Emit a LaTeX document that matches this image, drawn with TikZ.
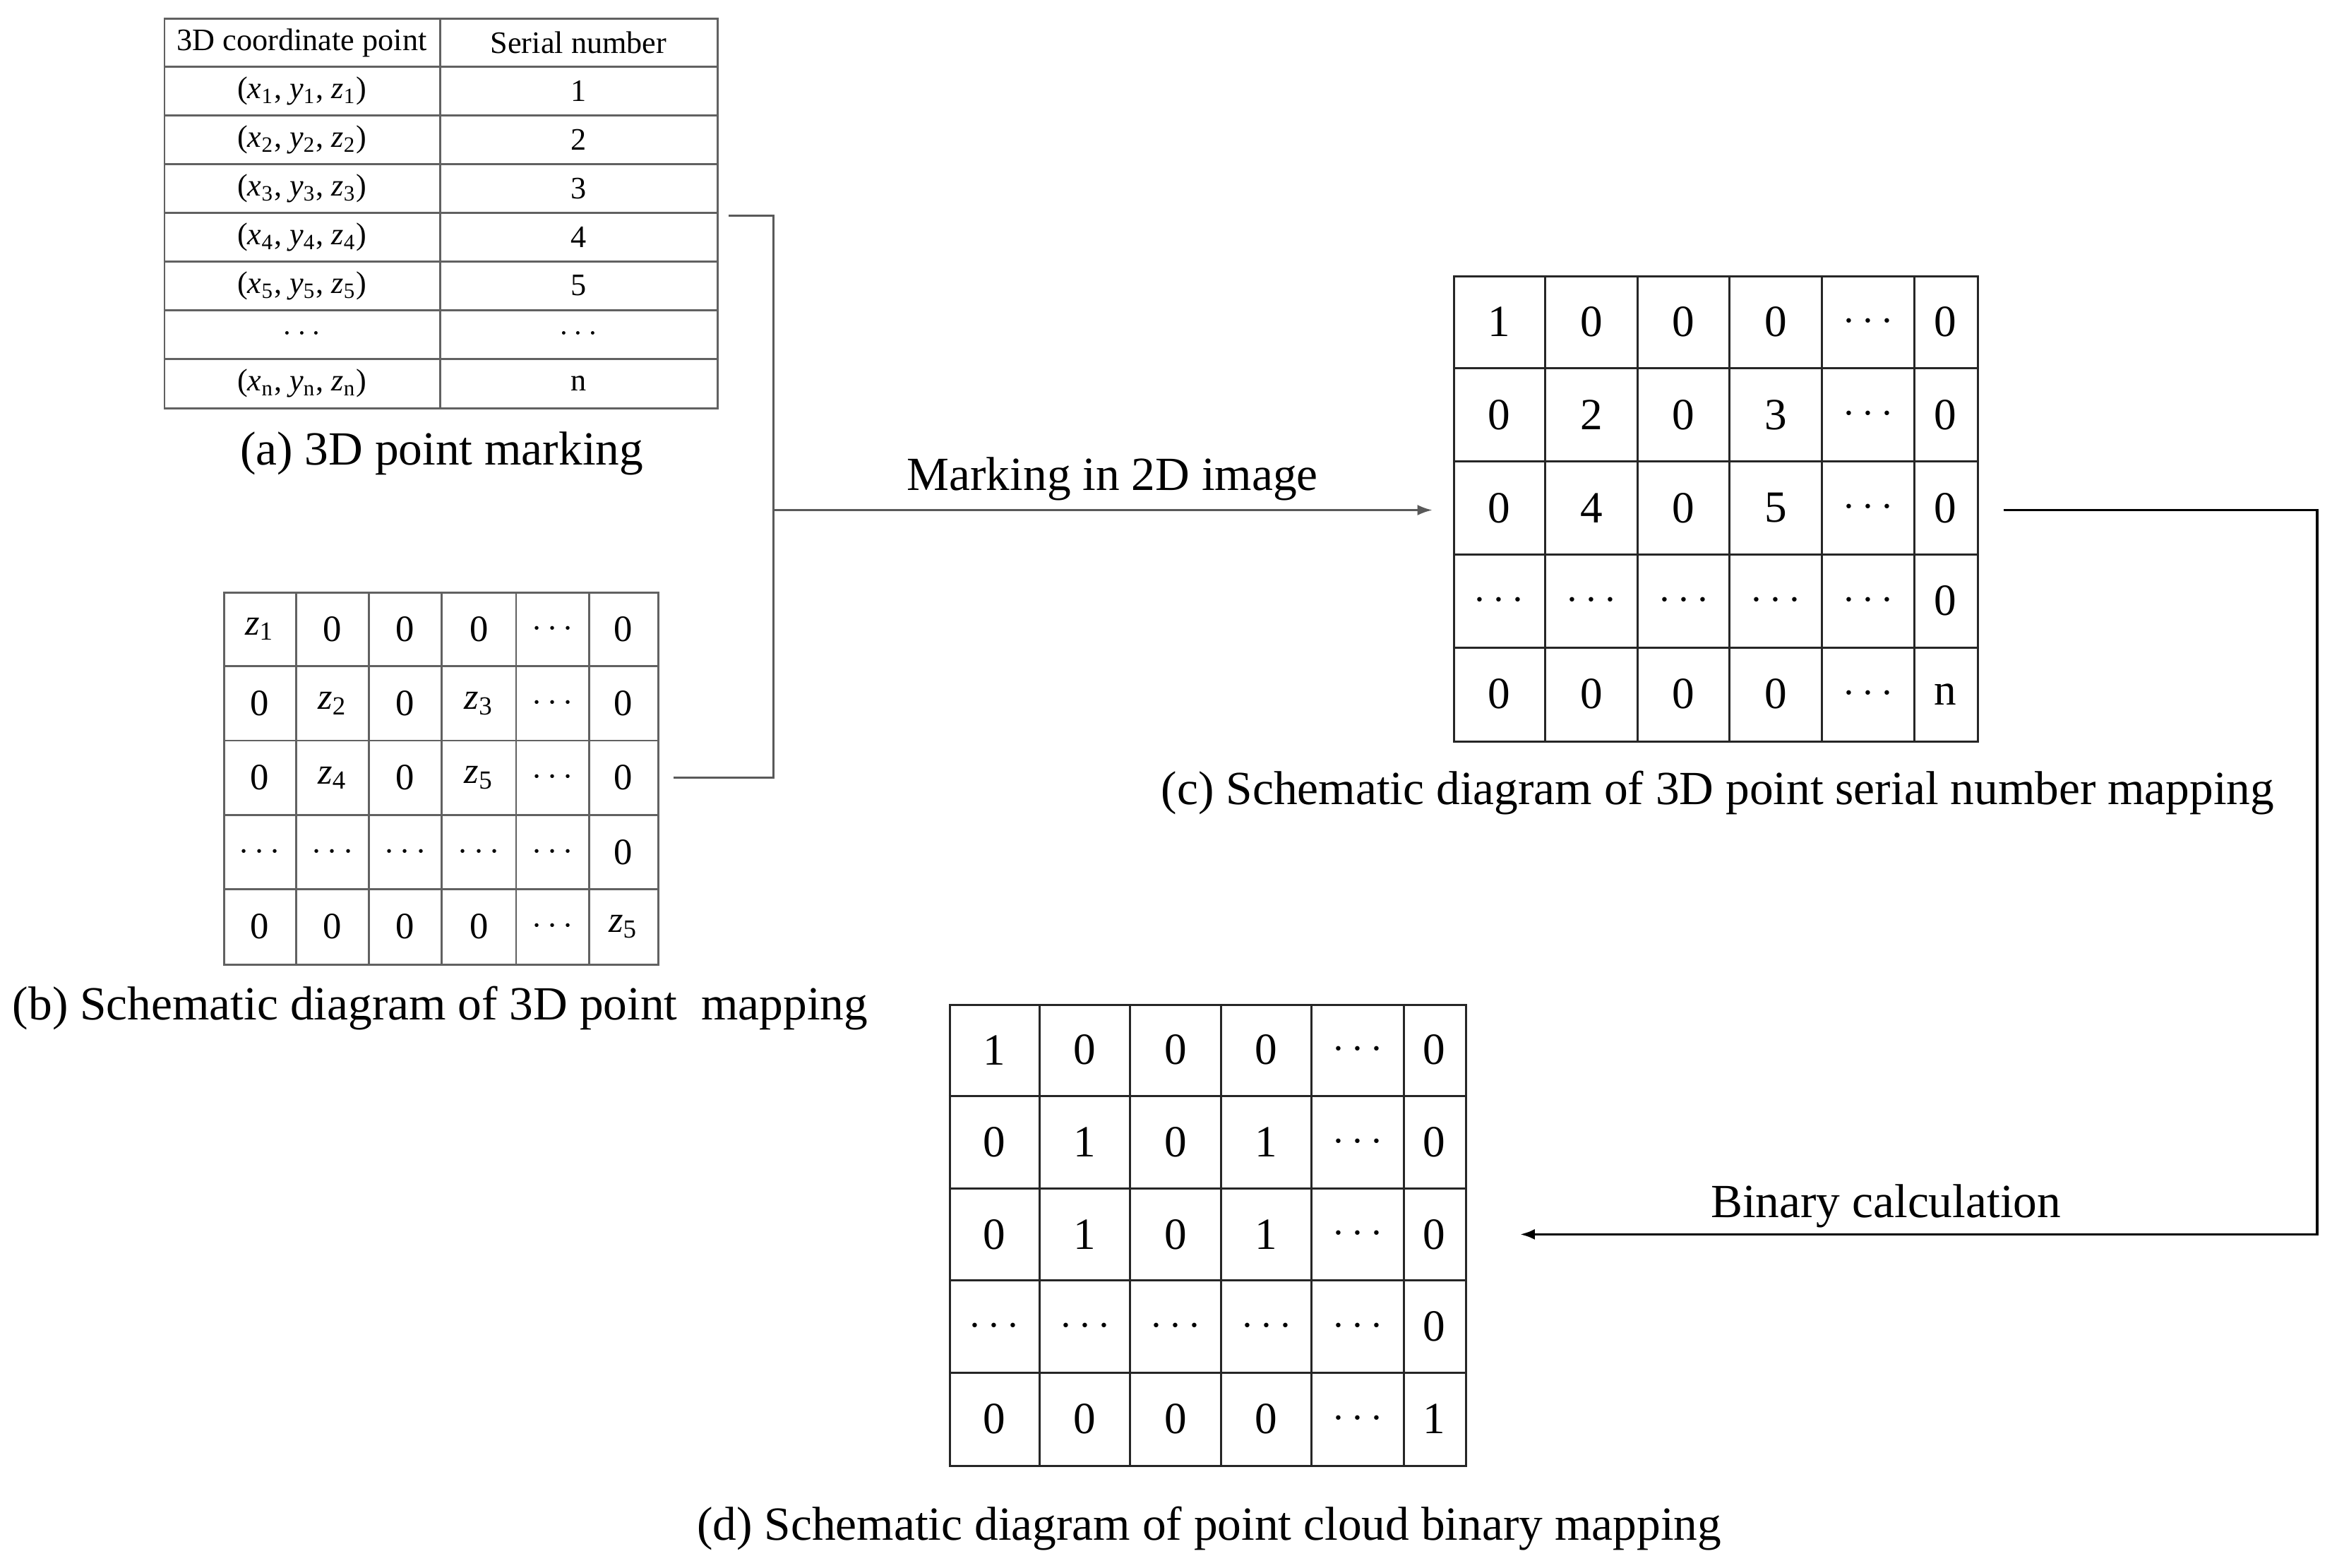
\documentclass[tikz,border=0pt]{standalone}
\usepackage{fontspec}
\setmainfont{Liberation Serif}
\usetikzlibrary{arrows.meta}
\newcommand{\zz}[1]{\textit{z}\textsubscript{#1}}
\newcommand{\trip}[1]{(\textit{x}\textsubscript{#1}, \textit{y}\textsubscript{#1}, \textit{z}\textsubscript{#1})}
\newcommand{\dd}{$\cdots$}
\newcommand{\matrow}[4]{\foreach \ee [count=\ci] in {#4} {\pgfmathsetmacro\xx{\curx[\ci-1]}\node[cell] (#1-#2-\ci) at (\xx,#3) {\ee};}}
\begin{document}
\begin{tikzpicture}[x=0.5pt,y=-0.5pt,
  tbl/.style={draw=black!62, line width=0.65pt},
  grd/.style={draw=black!85, line width=0.7pt},
  capt/.style={font=\fontsize{16}{19}\selectfont, inner sep=0},
  conn/.style={draw=black!65, line width=0.6pt},
  conn2/.style={draw=black, line width=0.9pt},
  tipA/.style={-{Latex[length=5pt,width=3.6pt]}}]
\useasboundingbox (0,0) rectangle (1568,1054);

% ---------- (a) table ----------
\node[tbl, anchor=north west, minimum width=186pt, minimum height=131pt, inner sep=0] (A) at (110,12) {};
\foreach \i in {1,...,7} \draw[tbl] (110,{12+32.75*\i}) -- (482,{12+32.75*\i});
\draw[tbl] (296,12) -- (296,274);
\begin{scope}[cell/.style={inner sep=0, font=\fontsize{10.5}{12}\selectfont}]
\node[cell] (ah1) at (203,28.8) {3D coordinate point};
\node[cell] (ah2) at (389,28.8) {Serial number};
\foreach \tA/\sA [count=\i] in {\trip{1}/1, \trip{2}/2, \trip{3}/3, \trip{4}/4, \trip{5}/5, \dd/\dd, \trip{n}/n}
  {\node[cell] (a-\i-1) at (203,{12+32.75*(\i+0.5)}) {\tA};
   \node[cell] (a-\i-2) at (389,{12+32.75*(\i+0.5)}) {\sA};}
\end{scope}
\node[capt] (capA) at (297,305) {(a) 3D point marking};

% ---------- (b) matrix ----------
\node[tbl, anchor=north west, minimum width=146pt, minimum height=125pt, inner sep=0] (B) at (150,398) {};
\foreach \x in {199,248,297,347,396} \draw[tbl] (\x,398) -- (\x,648);
\foreach \y in {448,498,548,598} \draw[tbl] (150,\y) -- (442,\y);
\begin{scope}[cell/.style={inner sep=0, font=\fontsize{12.5}{14}\selectfont}]
\def\curx{{174.5,223.5,272.5,322,371.5,419}}
\matrow{b}{1}{423}{\zz{1},0,0,0,\dd,0}
\matrow{b}{2}{473}{0,\zz{2},0,\zz{3},\dd,0}
\matrow{b}{3}{523}{0,\zz{4},0,\zz{5},\dd,0}
\matrow{b}{4}{573}{\dd,\dd,\dd,\dd,\dd,0}
\matrow{b}{5}{623}{0,0,0,0,\dd,\zz{5}}
\end{scope}
\node[capt] (capB) at (296,678) {(b) Schematic diagram of 3D point \ mapping};

% ---------- (c) matrix ----------
\node[grd, anchor=north west, minimum width=176pt, minimum height=156.5pt, inner sep=0] (C) at (977,185) {};
\foreach \x in {1039,1101,1163,1225,1287} \draw[grd] (\x,185) -- (\x,498);
\foreach \i in {1,...,4} \draw[grd] (977,{185+62.6*\i}) -- (1329,{185+62.6*\i});
\begin{scope}[cell/.style={inner sep=0, font=\fontsize{15}{17}\selectfont}]
\def\curx{{1008,1070,1132,1194,1256,1308}}
\matrow{c}{1}{216.3}{1,0,0,0,\dd,0}
\matrow{c}{2}{278.9}{0,2,0,3,\dd,0}
\matrow{c}{3}{341.5}{0,4,0,5,\dd,0}
\matrow{c}{4}{404.1}{\dd,\dd,\dd,\dd,\dd,0}
\matrow{c}{5}{466.7}{0,0,0,0,\dd,n}
\end{scope}
\node[capt] (capC) at (1155,533) {(c) Schematic diagram of 3D point serial number mapping};

% ---------- (d) matrix ----------
\node[grd, anchor=north west, minimum width=173.5pt, minimum height=155pt, inner sep=0] (D) at (638,675) {};
\foreach \x in {699,760,821,882,944} \draw[grd] (\x,675) -- (\x,985);
\foreach \y in {737,799,861,923} \draw[grd] (638,\y) -- (985,\y);
\begin{scope}[cell/.style={inner sep=0, font=\fontsize{15}{17}\selectfont}]
\def\curx{{668.5,729.5,790.5,851.5,913,964.5}}
\matrow{d}{1}{706}{1,0,0,0,\dd,0}
\matrow{d}{2}{768}{0,1,0,1,\dd,0}
\matrow{d}{3}{830}{0,1,0,1,\dd,0}
\matrow{d}{4}{892}{\dd,\dd,\dd,\dd,\dd,0}
\matrow{d}{5}{954}{0,0,0,0,\dd,1}
\end{scope}
\node[capt] (capD) at (813,1028) {(d) Schematic diagram of point cloud binary mapping};

% ---------- connectors ----------
\coordinate (a1) at (490,145);
\coordinate (b1) at (453,523);
\coordinate (j) at (520,343);
\coordinate (c0) at (963,343);
\draw[conn] (a1) -| (j) |- (b1);
\draw[conn, tipA] (j) -- (c0);
\node[capt] (lab1) at (748,322) {Marking in 2D image};

\coordinate (c1) at (1347,343);
\coordinate (k) at (1558,830);
\coordinate (d1) at (1022,830);
\draw[conn2, tipA] (c1) -| (k) -- (d1);
\node[capt] (lab2) at (1268,811) {Binary calculation};
\end{tikzpicture}
\end{document}
